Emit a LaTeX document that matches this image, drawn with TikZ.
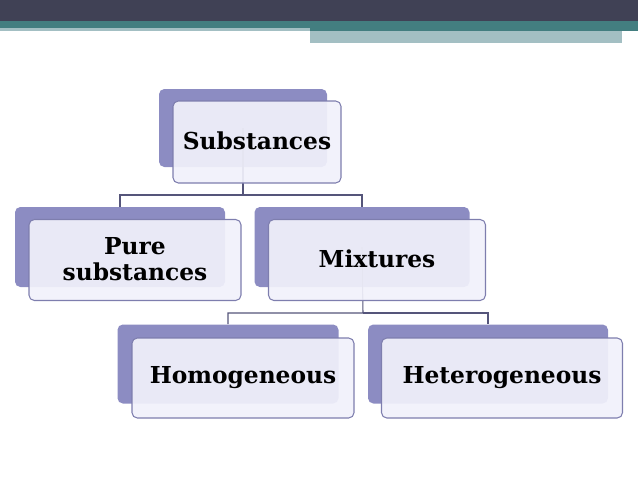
\documentclass[tikz,border=0pt]{standalone}
\usepackage{fontspec}
\setmainfont{DejaVu Serif}
\begin{document}
\begin{tikzpicture}[x=0.75pt,y=-0.75pt,
  backbox/.style={fill=backc,draw=none,rounded corners=4pt},
  frontbox/.style={fill=frontc,fill opacity=0.93,draw=edgec,line width=0.8pt,rounded corners=4pt},
  lbl/.style={font=\bfseries\fontsize{17.5}{19}\selectfont,align=center,text=black},
  conn/.style={draw=linec,line width=0.8pt}]
\definecolor{backc}{HTML}{8C8CC2}
\definecolor{frontc}{HTML}{F1F1FB}
\definecolor{edgec}{HTML}{7E7EAE}
\definecolor{linec}{HTML}{55557A}
\definecolor{dark}{HTML}{404155}
\definecolor{teal}{HTML}{437E80}
\definecolor{lteal}{HTML}{A3BFC3}
\useasboundingbox (0,0) rectangle (638,478);
\fill[dark] (0,0) rectangle (638,21);
\fill[teal] (0,21) rectangle (638,28);
\fill[lteal] (0,28) rectangle (310,31);
\fill[teal] (310,28) rectangle (638,31);
\fill[lteal] (310,31) rectangle (622,43);
% back boxes
\node[backbox,minimum width=168*0.75pt,minimum height=78*0.75pt,inner sep=0] (sb) at (243,128) {};
\node[backbox,minimum width=210*0.75pt,minimum height=80*0.75pt,inner sep=0] (pb) at (120,247) {};
\node[backbox,minimum width=215*0.75pt,minimum height=80*0.75pt,inner sep=0] (mb) at (362,247) {};
\node[backbox,minimum width=221*0.75pt,minimum height=79*0.75pt,inner sep=0] (hob) at (228,364) {};
\node[backbox,minimum width=240*0.75pt,minimum height=79*0.75pt,inner sep=0] (heb) at (488,364) {};
% connectors
\draw[conn] (sb.center) -- (243,195) -| (pb.north);
\draw[conn] (243,195) -| (mb.north);
\draw[conn] (mb.center) -- (363,313) -| (hob.north);
\draw[conn] (363,313) -| (heb.north);
% front boxes
\node[frontbox,minimum width=168*0.75pt,minimum height=82*0.75pt,inner sep=0] (sf) at (257,142) {};
\node[frontbox,minimum width=212*0.75pt,minimum height=81*0.75pt,inner sep=0] (pf) at (135,260) {};
\node[frontbox,minimum width=217*0.75pt,minimum height=81*0.75pt,inner sep=0] (mf) at (377,260) {};
\node[frontbox,minimum width=222*0.75pt,minimum height=80*0.75pt,inner sep=0] (hof) at (243,378) {};
\node[frontbox,minimum width=241*0.75pt,minimum height=80*0.75pt,inner sep=0] (hef) at (502,378) {};
\node[lbl] at (257,141) {Substances};
\node[lbl] at (135,259) {Pure\\substances};
\node[lbl] at (377,259) {Mixtures};
\node[lbl] at (243,378) {Homogeneous};
\node[lbl] at (502,378) {Heterogeneous};
\end{tikzpicture}
\end{document}
